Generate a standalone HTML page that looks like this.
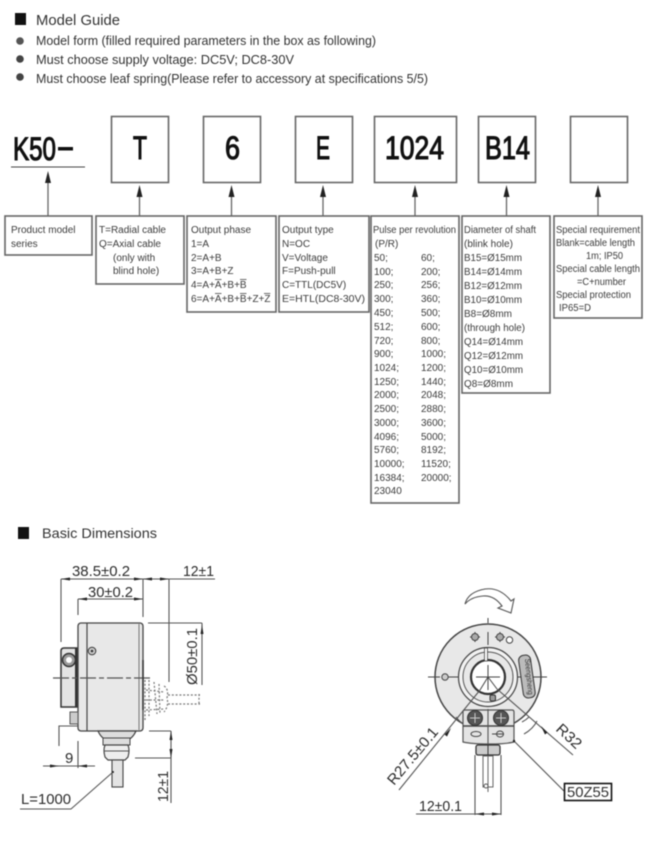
<!DOCTYPE html>
<html lang="en">
<head>
<meta charset="utf-8">
<title>Model Guide</title>
<style>
html,body{margin:0;padding:0;background:#fff;width:650px;height:848px;overflow:hidden}
svg{display:block;filter:blur(.45px)}
text{font-family:"Liberation Sans",Arial,sans-serif;fill:#333}
.h{font-size:13px;fill:#333}
.t{font-size:10px;fill:#3c3c3c}
.big{font-size:32px;fill:#111;stroke:#111;stroke-width:1.1}
.d{font-size:15px;fill:#2c2c2c}
.box{fill:#fff;stroke:#666;stroke-width:1.6}
.l{stroke:#555;stroke-width:1.1;fill:none}
.k{stroke:#444;stroke-width:1.2;fill:none}
.a{fill:#222;stroke:none}
.ol{stroke:#444;stroke-width:.8}
</style>
</head>
<body>
<svg width="650" height="848" viewBox="0 0 650 848" xmlns="http://www.w3.org/2000/svg">
<!-- Header -->
<rect x="15" y="13" width="11" height="12" fill="#111"/>
<text x="36" y="25" font-size="15" textLength="84" lengthAdjust="spacingAndGlyphs">Model Guide</text>
<circle cx="20" cy="41" r="3.800" fill="#555"/>
<circle cx="20" cy="59" r="3.800" fill="#444"/>
<circle cx="20" cy="77" r="3.800" fill="#444"/>
<text class="h" x="36" y="45" textLength="340" lengthAdjust="spacingAndGlyphs">Model form (filled required parameters in the box as following)</text>
<text class="h" x="36" y="64" textLength="258" lengthAdjust="spacingAndGlyphs">Must choose supply voltage:  DC5V;  DC8-30V</text>
<text class="h" x="36" y="83" textLength="392" lengthAdjust="spacingAndGlyphs">Must choose leaf spring(Please refer to accessory at specifications 5/5)</text>

<!-- Top boxes -->
<rect class="box" x="111.500" y="116.500" width="57" height="66"/>
<rect class="box" x="203.500" y="116.500" width="57" height="66"/>
<rect class="box" x="295.500" y="116.500" width="57" height="66"/>
<rect class="box" x="374.500" y="116.500" width="82" height="66"/>
<rect class="box" x="478.500" y="116.500" width="57" height="66"/>
<rect class="box" x="570.500" y="116.500" width="57" height="66"/>
<text class="big" x="13" y="160" textLength="43" lengthAdjust="spacingAndGlyphs">K50</text>
<rect x="58" y="147" width="15" height="3.500" fill="#111"/>
<line x1="11" y1="167" x2="85" y2="167" stroke="#444" stroke-width="1"/>
<text class="big" x="133" y="159" textLength="14" lengthAdjust="spacingAndGlyphs">T</text>
<text class="big" x="225" y="159" textLength="15" lengthAdjust="spacingAndGlyphs">6</text>
<text class="big" x="316" y="159" textLength="14" lengthAdjust="spacingAndGlyphs">E</text>
<text class="big" x="385" y="159" textLength="59" lengthAdjust="spacingAndGlyphs">1024</text>
<text class="big" x="485" y="159" textLength="45" lengthAdjust="spacingAndGlyphs">B14</text>

<!-- Connectors -->
<g stroke="#666" stroke-width="1.300">
<line x1="48" y1="180" x2="48" y2="216"/>
<line x1="139.500" y1="192" x2="139.500" y2="216"/>
<line x1="231.500" y1="192" x2="231.500" y2="216"/>
<line x1="323" y1="192" x2="323" y2="216"/>
<line x1="415" y1="192" x2="415" y2="216"/>
<line x1="506.500" y1="192" x2="506.500" y2="216"/>
<line x1="598" y1="192" x2="598" y2="216"/>
</g>
<path class="a" d="M48 171l-3 12h6z"/>
<path class="a" d="M139.500 185l-3 12h6z"/>
<path class="a" d="M231.500 185l-3 12h6z"/>
<path class="a" d="M323 185l-3 12h6z"/>
<path class="a" d="M415 185l-3 12h6z"/>
<path class="a" d="M506.500 185l-3 12h6z"/>
<path class="a" d="M598 185l-3 12h6z"/>

<!-- Description boxes -->
<rect class="box" x="5" y="216" width="87" height="39"/>
<rect class="box" x="96" y="216" width="88" height="68"/>
<rect class="box" x="187" y="216" width="89" height="96"/>
<rect class="box" x="279" y="216" width="90" height="96"/>
<rect class="box" x="371" y="216" width="88" height="287"/>
<rect class="box" x="462" y="216" width="88" height="177"/>
<rect class="box" x="554" y="216" width="88" height="102"/>

<text class="t" x="11" y="233">Product model</text>
<text class="t" x="11" y="247">series</text>

<text class="t" x="99" y="233">T=Radial cable</text>
<text class="t" x="99" y="247">Q=Axial cable</text>
<text class="t" x="113" y="261">(only with</text>
<text class="t" x="113" y="274">blind hole)</text>

<text class="t" x="191" y="233">Output phase</text>
<text class="t" x="191" y="247">1=A</text>
<text class="t" x="191" y="261">2=A+B</text>
<text class="t" x="191" y="274">3=A+B+Z</text>
<text class="t" x="191" y="288">4=A+A+B+B</text>
<text class="t" x="191" y="302">6=A+A+B+B+Z+Z</text>
<line class="ol" x1="215" y1="279.500" x2="221.500" y2="279.500"/>
<line class="ol" x1="240" y1="279.500" x2="246.500" y2="279.500"/>
<line class="ol" x1="215" y1="293.500" x2="221.500" y2="293.500"/>
<line class="ol" x1="240" y1="293.500" x2="246.500" y2="293.500"/>
<line class="ol" x1="264" y1="293.500" x2="270.300" y2="293.500"/>

<text class="t" x="282" y="233">Output type</text>
<text class="t" x="282" y="247">N=OC</text>
<text class="t" x="282" y="261">V=Voltage</text>
<text class="t" x="282" y="274">F=Push-pull</text>
<text class="t" x="282" y="288">C=TTL(DC5V)</text>
<text class="t" x="282" y="302" textLength="83" lengthAdjust="spacingAndGlyphs">E=HTL(DC8-30V)</text>

<text class="t" x="373" y="233" textLength="83" lengthAdjust="spacingAndGlyphs">Pulse per revolution</text>
<text class="t" x="375" y="247">(P/R)</text>
<text class="t" x="374" y="261">50;</text><text class="t" x="421" y="261">60;</text>
<text class="t" x="374" y="275">100;</text><text class="t" x="421" y="275">200;</text>
<text class="t" x="374" y="288">250;</text><text class="t" x="421" y="288">256;</text>
<text class="t" x="374" y="302">300;</text><text class="t" x="421" y="302">360;</text>
<text class="t" x="374" y="316">450;</text><text class="t" x="421" y="316">500;</text>
<text class="t" x="374" y="330">512;</text><text class="t" x="421" y="330">600;</text>
<text class="t" x="374" y="344">720;</text><text class="t" x="421" y="344">800;</text>
<text class="t" x="374" y="357">900;</text><text class="t" x="421" y="357">1000;</text>
<text class="t" x="374" y="371">1024;</text><text class="t" x="421" y="371">1200;</text>
<text class="t" x="374" y="385">1250;</text><text class="t" x="421" y="385">1440;</text>
<text class="t" x="374" y="398">2000;</text><text class="t" x="421" y="398">2048;</text>
<text class="t" x="374" y="412">2500;</text><text class="t" x="421" y="412">2880;</text>
<text class="t" x="374" y="426">3000;</text><text class="t" x="421" y="426">3600;</text>
<text class="t" x="374" y="440">4096;</text><text class="t" x="421" y="440">5000;</text>
<text class="t" x="374" y="453">5760;</text><text class="t" x="421" y="453">8192;</text>
<text class="t" x="374" y="467">10000;</text><text class="t" x="421" y="467">11520;</text>
<text class="t" x="374" y="481">16384;</text><text class="t" x="421" y="481">20000;</text>
<text class="t" x="374" y="494">23040</text>

<text class="t" x="464" y="233" textLength="72" lengthAdjust="spacingAndGlyphs">Diameter of shaft</text>
<text class="t" x="464" y="247">(blink hole)</text>
<text class="t" x="464" y="261" textLength="58" lengthAdjust="spacingAndGlyphs">B15=Ø15mm</text>
<text class="t" x="464" y="275" textLength="58" lengthAdjust="spacingAndGlyphs">B14=Ø14mm</text>
<text class="t" x="464" y="289" textLength="58" lengthAdjust="spacingAndGlyphs">B12=Ø12mm</text>
<text class="t" x="464" y="303" textLength="58" lengthAdjust="spacingAndGlyphs">B10=Ø10mm</text>
<text class="t" x="464" y="317" textLength="48" lengthAdjust="spacingAndGlyphs">B8=Ø8mm</text>
<text class="t" x="464" y="331" textLength="61" lengthAdjust="spacingAndGlyphs">(through hole)</text>
<text class="t" x="464" y="345" textLength="59" lengthAdjust="spacingAndGlyphs">Q14=Ø14mm</text>
<text class="t" x="464" y="359" textLength="59" lengthAdjust="spacingAndGlyphs">Q12=Ø12mm</text>
<text class="t" x="464" y="373" textLength="59" lengthAdjust="spacingAndGlyphs">Q10=Ø10mm</text>
<text class="t" x="464" y="387" textLength="49" lengthAdjust="spacingAndGlyphs">Q8=Ø8mm</text>

<text class="t" x="556" y="233" textLength="84" lengthAdjust="spacingAndGlyphs">Special requirement</text>
<text class="t" x="556" y="246" textLength="79" lengthAdjust="spacingAndGlyphs">Blank=cable length</text>
<text class="t" x="586" y="259" textLength="37" lengthAdjust="spacingAndGlyphs">1m; IP50</text>
<text class="t" x="556" y="272" textLength="84" lengthAdjust="spacingAndGlyphs">Special cable length</text>
<text class="t" x="577" y="285" textLength="49" lengthAdjust="spacingAndGlyphs">=C+number</text>
<text class="t" x="556" y="298" textLength="75" lengthAdjust="spacingAndGlyphs">Special protection</text>
<text class="t" x="559" y="311" textLength="32" lengthAdjust="spacingAndGlyphs">IP65=D</text>

<!-- Basic Dimensions -->
<rect x="18" y="527" width="11" height="12" fill="#111"/>
<text x="42" y="538" font-size="14" textLength="115" lengthAdjust="spacingAndGlyphs">Basic Dimensions</text>

<!-- Left drawing -->
<path d="M61 651q0-3 3-3h14v59H61z" fill="#e4e4e4" stroke="#333" stroke-width="1.500"/>
<rect x="75" y="648" width="3.500" height="59" fill="#333"/>
<rect x="78" y="623" width="65" height="108" rx="3" fill="#e8e8e8" stroke="#444" stroke-width="1.300"/>
<line class="k" x1="87" y1="623" x2="87" y2="731"/>
<line x1="139" y1="624" x2="139" y2="730" stroke="#777" stroke-width="1"/>
<circle cx="69" cy="660" r="6.500" fill="#999" stroke="#333" stroke-width="1.500"/>
<circle cx="69" cy="660" r="3" fill="#fff"/>
<circle cx="92" cy="651" r="3.800" fill="#ccc" stroke="#333"/>
<circle cx="92" cy="651" r="1.300" fill="#333"/>
<rect x="70" y="712" width="8" height="12" fill="#ccc" stroke="#555"/>
<line x1="53" y1="678" x2="152" y2="678" stroke="#555" stroke-width="1.200" stroke-dasharray="16 3 5 3"/>
<path d="M143 660v50" stroke="#333" stroke-width="1.500"/>
<!-- dotted alt cable -->
<g stroke="#777" fill="none" stroke-dasharray="2 1.800" stroke-width="1.200">
<path d="M145 680v40M149 680v36M154 682l3 32M159 684l1 30M164 686q5 3 3 12q2 8-3 14"/>
<path d="M146 690l18 2M146 700h19M146 710l18-1"/>
<path d="M168 695h32M168 704h32M199 694v11"/>
</g>
<!-- gland -->
<path d="M98 731q4 9 12 10h14q8-1 12-10z" fill="#ddd" stroke="#444" stroke-width="1.200"/>
<rect x="103" y="738" width="27" height="7" fill="#ddd" stroke="#444"/>
<path d="M105 745h23q2 5 0 12l-3 3h-17l-3-3q-2-7 0-12z" fill="#eee" stroke="#444" stroke-width="1.200"/>
<line class="l" x1="104" y1="751" x2="129" y2="751"/>
<rect x="112" y="760" width="11" height="27" fill="#e4e4e4" stroke="#444" stroke-width="1.100"/>
<!-- dims left -->
<g class="l">
<path d="M61 579H215"/><path d="M61 579v63"/><path d="M143 579v38"/><path d="M169 579v103"/>
<path d="M78 599h65M78 599v16"/>
<path d="M148 623h54M202 623v62"/>
<path d="M59 746v-20h19M78 741v27M43 766h52"/>
<path d="M149 731h22M135 758h36M171 731v72"/>
<path d="M20 809h51l42-37"/>
</g>
<g class="a">
<path d="M61 579l9-1.500v3z"/><path d="M143 579l-9-1.500v3z"/><path d="M143 579l9-1.500v3z"/><path d="M169 579l-9-1.500v3z"/>
<path d="M78 599l9-1.500v3z"/><path d="M143 599l-9-1.500v3z"/>
<path d="M202 625l-1.500 9h3z"/>
<path d="M59 766l-9-1.500v3z"/><path d="M78 766l9-1.500v3z"/>
<path d="M171 731l-1.500 9h3z"/><path d="M171 758l-1.500-9h3z"/>
<circle cx="113" cy="772" r="1"/>
</g>
<text class="d" x="72" y="576" textLength="58" lengthAdjust="spacingAndGlyphs">38.5±0.2</text>
<text class="d" x="183" y="576" textLength="31" lengthAdjust="spacingAndGlyphs">12±1</text>
<text class="d" x="88" y="597" textLength="45" lengthAdjust="spacingAndGlyphs">30±0.2</text>
<text class="d" transform="translate(197 685) rotate(-90)" textLength="57" lengthAdjust="spacingAndGlyphs">Ø50±0.1</text>
<text class="d" x="65" y="763" font-size="13">9</text>
<text class="d" transform="translate(168 802) rotate(-90)" textLength="31" lengthAdjust="spacingAndGlyphs">12±1</text>
<text class="d" x="21" y="804" textLength="50" lengthAdjust="spacingAndGlyphs">L=1000</text>

<!-- Right drawing -->
<path d="M465 604q3-12 20-15q15-2 26 12l3-2-3 14-13-5 4-2q-8-11-19-10q-12 1-18 8z" fill="#fff" stroke="#555" stroke-width="1.100"/>
<circle cx="488" cy="677" r="53" fill="#e8e8e8" stroke="#444" stroke-width="1.500"/>
<circle cx="488" cy="677" r="29.500" fill="#f2f2f2" stroke="#444" stroke-width="1.200"/>
<circle cx="488" cy="677" r="25" fill="#e8e8e8" stroke="#555"/>
<circle cx="488" cy="677" r="17" fill="#fff" stroke="#333" stroke-width="2.200"/>
<rect x="484.500" y="648" width="3" height="13" fill="#fff" stroke="#444" stroke-width=".8"/>
<rect x="490" y="695" width="5.500" height="6" rx="1.500" fill="#999" stroke="#333"/>
<g stroke="#444" stroke-width="1" fill="none">
<path d="M428 677h12M448 677h10M476 677h24M518 677h29"/>
<path d="M488 618v5M488 632v13M488 665v25"/>
<path d="M470 637h10M475 632v10M495 637h10M500 632v10"/>
<path d="M488 677l-8 13M488 677l9 12"/>
</g>
<circle cx="475" cy="637" r="3.500" fill="#aaa" stroke="#444"/>
<circle cx="500" cy="637" r="3.500" fill="#aaa" stroke="#444"/>
<circle cx="509.500" cy="640" r="3.200" fill="#fff" stroke="#444"/>
<circle cx="445" cy="677" r="3.200" fill="#ccc" stroke="#444"/>
<rect x="521" y="655" width="12" height="43" rx="5" fill="#bbb" stroke="#333" transform="rotate(-8 527 677)"/>
<text transform="translate(525 659) rotate(85)" font-size="7.500" fill="#222" textLength="36" lengthAdjust="spacingAndGlyphs">Seengsheng</text>
<!-- radius leaders on the disc -->
<g class="l">
<path d="M399 790L480 690"/>
<path d="M497 689L573 755"/>
</g>
<!-- block -->
<path d="M465 710h47q2 0 2 2v30q-8 2-25 2t-26-2v-30q0-2 2-2z" fill="#e4e4e4" stroke="#555" stroke-width="1.200"/>
<line x1="463" y1="726" x2="514" y2="726" stroke="#444" stroke-width="1.600"/>
<circle cx="475" cy="718" r="7.500" fill="#555" stroke="#333"/>
<circle cx="501" cy="718" r="7.500" fill="#555" stroke="#333"/>
<path d="M470 718h10M475 713v10M496 718h10M501 713v10" stroke="#ccc" stroke-width="1"/>
<ellipse cx="476" cy="734" rx="5" ry="2.500" fill="none" stroke="#444"/>
<ellipse cx="500" cy="734" rx="3.500" ry="3" fill="none" stroke="#444"/>
<path d="M492 734h12" stroke="#444"/>
<line class="l" x1="488" y1="709" x2="488" y2="745"/>
<rect x="476" y="745" width="24" height="10" rx="2" fill="#ccc" stroke="#333" stroke-width="1.300"/>
<line x1="488" y1="745" x2="488" y2="755" stroke="#333"/>
<rect x="483" y="756" width="10" height="31" fill="#fff" stroke="#666"/>
<line x1="488" y1="756" x2="488" y2="792" stroke="#666"/>
<circle cx="486" cy="786" r="2" fill="#fff" stroke="#555"/>
<!-- dims right -->
<g class="l">
<path d="M475 755v60M501 755v60M416 814h85"/>
<path d="M514 741L564 791"/>
<path d="M524 734q9-5 13-13M522 722q4-2 7-5M462 723q-3-2-6-6"/>
</g>
<rect x="564.500" y="783.500" width="47" height="17" fill="#fff" stroke="#111" stroke-width="1.600"/>
<g class="a">
<path d="M475 814l9-1.500v3z"/><path d="M501 814l-9-1.500v3z"/>
<path d="M451 728l-6.500 6.500 2.500 2z"/>
<path d="M541 726l6.500 6.500-2.500 2z"/>
<circle cx="514" cy="741" r="1.200"/>
</g>
<text class="d" x="419" y="811" textLength="43" lengthAdjust="spacingAndGlyphs">12±0.1</text>
<text class="d" transform="translate(394 786) rotate(-50)" textLength="70" lengthAdjust="spacingAndGlyphs">R27.5±0.1</text>
<text class="d" transform="translate(555 730) rotate(43)" textLength="29" lengthAdjust="spacingAndGlyphs">R32</text>
<text x="567" y="797" font-size="15" fill="#222" textLength="42" lengthAdjust="spacingAndGlyphs">50Z55</text>
</svg>
</body>
</html>
